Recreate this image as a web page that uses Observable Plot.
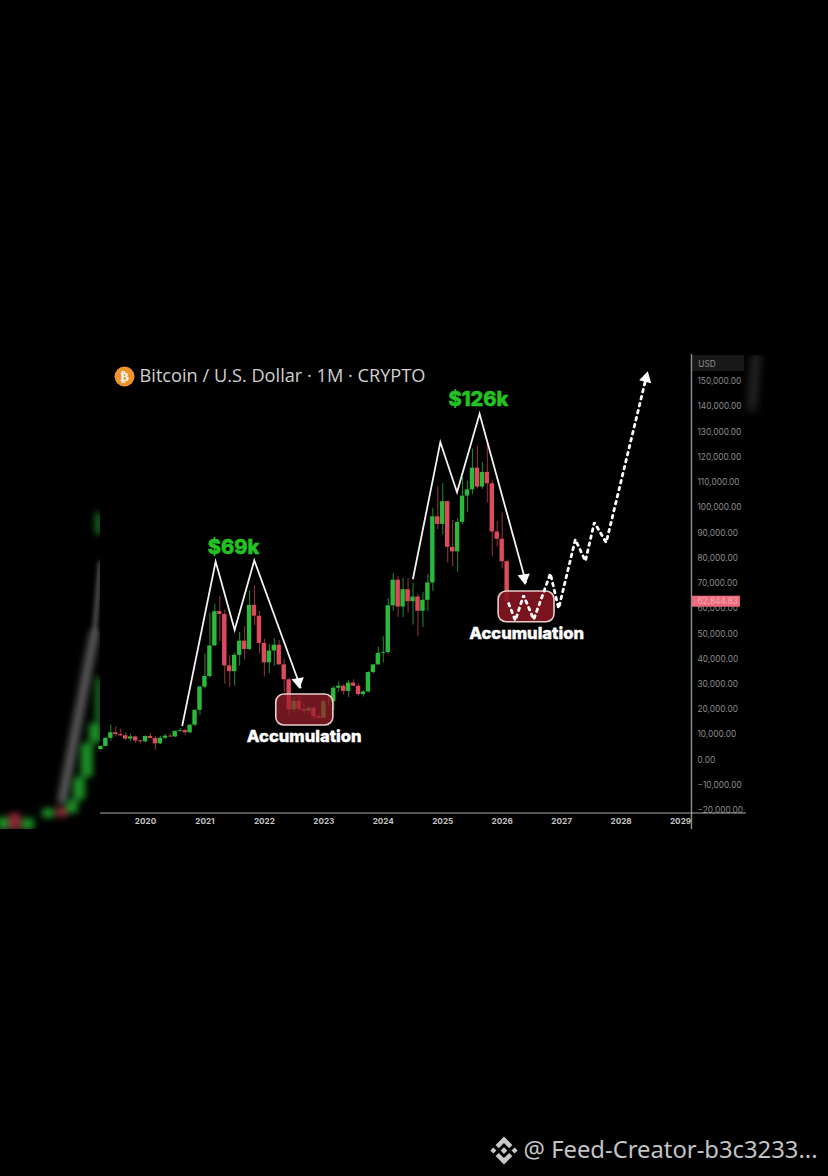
<!DOCTYPE html>
<html>
<head>
<meta charset="utf-8">
<style>html,body{margin:0;padding:0;background:#000}svg{display:block}</style>
<script src="https://cdn.jsdelivr.net/npm/d3@7"></script>
<script src="https://cdn.jsdelivr.net/npm/@observablehq/plot@0.6"></script>
</head>
<body>
<script>
// Monthly candles, first candle April 2019 (year 2019.25)
const firstYear = 2019.25;
const opens = [4100,5350,8570,10800,10080,9600,8300,9150,7570,7190,9350,8540,6410,8630,9450,9140,11350,11650,10780,13800,19700,28900,33100,45200,58800,57700,37300,35000,41500,47100,43800,61300,57000,46200,38500,43200,45500,37700,31800,19900,23300,20050,19400,20500,17200,16550,23100,23150,28450,29250,27200,30470,29230,25930,26960,34650,37700,42280,42580,61130,71280,60650,67500,62750,64600,58970,63300,70200,96400,93400,102400,84300,82500,94200,104600,107100,115700,108200,114000,109500,90400,87500,78600];
const highs = [5600,9000,13900,13200,12300,10950,10350,9500,7750,9560,10500,9190,9460,10070,10380,11450,12480,12050,14100,19800,29300,41900,58300,61700,64800,59500,41300,42400,50500,52900,67000,69000,59000,47900,45800,48200,47400,40000,32400,24600,25200,22800,21100,21500,18400,23300,25250,29200,31000,29800,31400,31800,30200,27500,35000,38000,44700,48900,64000,73800,72700,71950,71900,70000,65600,66500,73600,99800,108300,109500,102700,95000,95700,112000,110500,123200,124500,117900,126200,110700,94500,97900,79300];
const lows = [4100,5300,7500,9100,9300,7700,7300,6500,6430,6850,8450,3850,6150,8100,8900,8950,11000,9850,10370,13200,17600,28100,32400,45000,47000,30000,28800,29300,37300,39600,43300,53300,42000,32900,34300,37200,37600,26700,17600,18800,19500,18100,18200,15500,16300,16500,21400,19550,26900,25800,24800,28900,25300,24900,26550,34100,37600,38500,41900,59000,56500,56500,58400,53500,49000,52500,58900,66800,91300,89200,78200,76600,74400,93400,98200,105100,107400,107300,102000,80600,84500,75700,60000];
const closes = [5350,8570,10800,10080,9600,8300,9150,7570,7190,9350,8540,6410,8630,9450,9140,11350,11650,10780,13800,19700,28900,33100,45200,58800,57700,37300,35000,41500,47100,43800,61300,57000,46200,38500,43200,45500,37700,31800,19900,23300,20050,19400,20500,17200,16550,23100,23150,28450,29250,27200,30470,29230,25930,26960,34650,37700,42280,42580,61130,71280,60650,67500,62750,64600,58970,63300,70200,96400,93400,102400,84300,82500,94200,104600,107100,115700,108200,114000,109500,90400,87500,78600,62844];

// Blurred edge of the picture on the left
const blurYears = [2017.61,2017.81,2018.03,2018.37,2018.60,2018.77,2018.89,2019.02,2019.16,2019.21,2019.21];
const blurLow  = [-27950,-27950,-27950,-23190,-22790,-21210,-16050,-6940,6540,14470,89000];
const blurHigh = [-22790,-21210,-23190,-19230,-18830,-16050,-6940,6540,14470,32700,98110];
const blurUp   = [true,false,true,true,false,true,true,true,true,true,true];

// Drawn pattern lines
const leftYears = [2020.62,2021.18,2021.50,2021.83,2022.61];
const leftPrices = [13700,78690,51530,79080,28740];
const rightYears = [2024.50,2024.96,2025.24,2025.62,2026.40];
const rightPrices = [71950,125980,106160,137230,70360];
const projYears = [2026.11,2026.22,2026.36,2026.53,2026.69,2026.81,2026.95,2027.23,2027.40,2027.55,2027.75,2028.41];
const projPrices = [62040,55300,65210,55690,66000,73930,60050,87410,78880,94150,86220,150430];

// Text
const priceTicks = [150000,140000,130000,120000,110000,100000,90000,80000,70000,60000,50000,40000,30000,20000,10000,0,-10000,-20000];
const yearTicks = [2020,2021,2022,2023,2024,2025,2026,2027,2028,2029];
const titleText = "Bitcoin / U.S. Dollar · 1M · CRYPTO";
const lastPrice = "62,844.83";
const watermark = "@ Feed-Creator-b3c3233...";

const candles = opens.map((o,i)=>({t:firstYear+i/12,o,h:highs[i],l:lows[i],c:closes[i],up:closes[i]>=o}));
const pts = (xs,ys)=>xs.map((x,i)=>({x,y:ys[i]}));
const blurBlobs = blurYears.map((t,i)=>({t,l:blurLow[i],h:blurHigh[i],up:blurUp[i],hw:i>=9?0.04:0.105}));

const GREEN="#2cb93a", RED="#dc4a5b", GW="#1f8029", RW="#8a2f3a";
const SANS="Inter, 'Open Sans', Roboto, sans-serif";

// Binance-style mark as a custom dot symbol
const binance = {draw(ctx,size){
  const k=Math.sqrt(size/Math.PI);
  const poly=p=>{p.forEach(([x,y],i)=>i?ctx.lineTo(x*k,y*k):ctx.moveTo(x*k,y*k));ctx.closePath();};
  poly([[0,-1],[.6,-.4],[.37,-.17],[0,-.54],[-.37,-.17],[-.6,-.4]]);
  poly([[0,1],[.6,.4],[.37,.17],[0,.54],[-.37,.17],[-.6,.4]]);
  poly([[-.98,0],[-.76,-.22],[-.54,0],[-.76,.22]]);
  poly([[.98,0],[.76,-.22],[.54,0],[.76,.22]]);
  poly([[0,-.24],[.24,0],[0,.24],[-.24,0]]);
}};

const chart = Plot.plot({
  width:828,height:1176,margin:0,
  style:{background:"#000",color:"#fff"},
  x:{type:"linear",domain:[2017.561,2031.489],range:[0,828],axis:null},
  y:{type:"linear",domain:[-165100,301066],range:[1176,0],axis:null},
  marks:[
    // blurred strip at the left and right
    Plot.line(pts([2018.60,2019.14],[-16000,50000]),{x:"x",y:"y",stroke:"#5e5e5e",strokeWidth:9,imageFilter:"blur(3.5px)"}),
    Plot.line(pts([2019.14,2019.24],[50000,78000]),{x:"x",y:"y",stroke:"#5e5e5e",strokeWidth:4,imageFilter:"blur(2px)"}),
    Plot.rect(blurBlobs,{x1:d=>d.t-d.hw,x2:d=>d.t+d.hw,y1:"l",y2:"h",fill:d=>d.up?"#1c8a26":"#8a2633",rx:3,imageFilter:"blur(3px)"}),
    Plot.line(pts([2030.27,2030.2],[160000,140000]),{x:"x",y:"y",stroke:"#2c2c2c",strokeWidth:8,imageFilter:"blur(4px)"}),
    // masks that give the picture its hard edges
    Plot.rect([0],{x1:2019.243,x2:2029.18,y1:-21010,y2:170000,fill:"#000"}),
    Plot.rect([0],{x1:2017.561,x2:2031.489,y1:-27550,y2:-36000,fill:"#000"}),
    Plot.rect([0],{x1:2029.5,x2:2031.489,y1:160340,y2:170000,fill:"#000"}),
    // candles
    Plot.ruleX(candles,{x:"t",y1:"l",y2:"h",stroke:d=>d.up?GW:RW,strokeWidth:1.1,imageFilter:"blur(0.4px)"}),
    Plot.rect(candles,{x1:d=>d.t-0.037,x2:d=>d.t+0.037,y1:"o",y2:"c",fill:d=>d.up?GREEN:RED,imageFilter:"blur(0.4px)"}),
    // accumulation boxes
    Plot.rect([0],{x1:2022.20,x2:2023.16,y1:13680,y2:25960,rx:8,fill:"#9a1f2b",fillOpacity:0.72,stroke:"#e6cfc9",strokeWidth:1.6}),
    Plot.rect([0],{x1:2025.94,x2:2026.88,y1:54620,y2:66790,rx:8,fill:"#8a1622",fillOpacity:0.88,stroke:"#e6cfc9",strokeWidth:1.6}),
    // pattern lines
    Plot.line(pts(leftYears,leftPrices),{x:"x",y:"y",stroke:"#f2f2f2",strokeWidth:1.8,strokeLinejoin:"miter",strokeMiterlimit:10}),
    Plot.line(pts(rightYears,rightPrices),{x:"x",y:"y",stroke:"#f2f2f2",strokeWidth:1.8,strokeLinejoin:"miter",strokeMiterlimit:10}),
    Plot.line(pts(projYears,projPrices),{x:"x",y:"y",stroke:"#fff",strokeWidth:2.8,strokeDasharray:"2.6,4.6",strokeLinejoin:"miter"}),
    Plot.dot([{x:2022.57,y:31000,r:170},{x:2026.37,y:72200,r:172},{x:2028.42,y:151300,r:14}],{x:"x",y:"y",symbol:"triangle",r:4.6,fill:"#fff",rotate:"r"}),
    // labels
    Plot.text([0],{x:2021.48,y:84240,text:()=>"$69k",fill:"#22c322",stroke:"#22c322",strokeWidth:0.5,fontSize:20,fontWeight:800,fontFamily:SANS}),
    Plot.text([0],{x:2025.60,y:142900,text:()=>"$126k",fill:"#22c322",stroke:"#22c322",strokeWidth:0.5,fontSize:20,fontWeight:800,fontFamily:SANS}),
    Plot.text([0],{x:2022.67,y:9315,text:()=>"Accumulation",fill:"#fff",stroke:"#fff",strokeWidth:0.4,fontSize:16.6,fontWeight:800,fontFamily:SANS}),
    Plot.text([0],{x:2026.41,y:49950,text:()=>"Accumulation",fill:"#fff",stroke:"#fff",strokeWidth:0.4,fontSize:16.6,fontWeight:800,fontFamily:SANS}),
    // title
    Plot.dot([0],{x:2019.647,y:152020,r:10,fill:"#f0932b"}),
    Plot.text([0],{x:2019.647,y:152020,text:()=>"₿",fill:"#fff",fontSize:13,fontWeight:700,fontFamily:"DejaVu Sans"}),
    Plot.text([0],{x:2019.90,y:152020,text:()=>titleText,textAnchor:"start",fill:"#d0d0d0",fontSize:18.2,fontFamily:"'Open Sans', sans-serif"}),
    // price axis
    Plot.rect([0],{x1:2029.2,x2:2030.08,y1:154000,y2:160340,fill:"#181818"}),
    Plot.text(priceTicks,{x:2029.285,y:d=>d,text:d=>d3.format(",.2f")(d),textAnchor:"start",fill:"#8c8c8c",fontSize:8.3,fontFamily:SANS}),
    Plot.text([0],{x:2029.30,y:157000,text:()=>"USD",textAnchor:"start",fill:"#8c8c8c",fontSize:8.3,fontFamily:SANS}),
    Plot.rect([0],{x1:2029.184,x2:2030.008,y1:60570,y2:64930,fill:"#ee6a7c"}),
    Plot.text([0],{x:2029.285,y:62830,text:()=>lastPrice,textAnchor:"start",fill:"#f7a8b2",fontSize:8.3,fontFamily:SANS}),
    Plot.ruleX([2029.184],{y1:-27550,y2:160740,stroke:"#8e8e8e",strokeWidth:1.4}),
    Plot.ruleY([-21010],{x1:2019.243,x2:2030.11,stroke:"#a8a8a8",strokeWidth:1.2}),
    // year axis
    Plot.text(yearTicks,{x:d=>d,y:-24500,text:d=>String(d),fill:"#c4c4c4",fontSize:8.2,fontWeight:700,fontFamily:SANS}),
    // watermark
    Plot.dot([0],{x:2026.03,y:-154800,r:14,symbol:binance,fill:"#c9c9c9"}),
    Plot.text([0],{x:2026.36,y:-154800,text:()=>watermark,textAnchor:"start",fill:"#c4c4c4",fontSize:23.8,fontFamily:"'Noto Sans', sans-serif"})
  ]
});
document.body.appendChild(chart);
</script>
</body>
</html>
